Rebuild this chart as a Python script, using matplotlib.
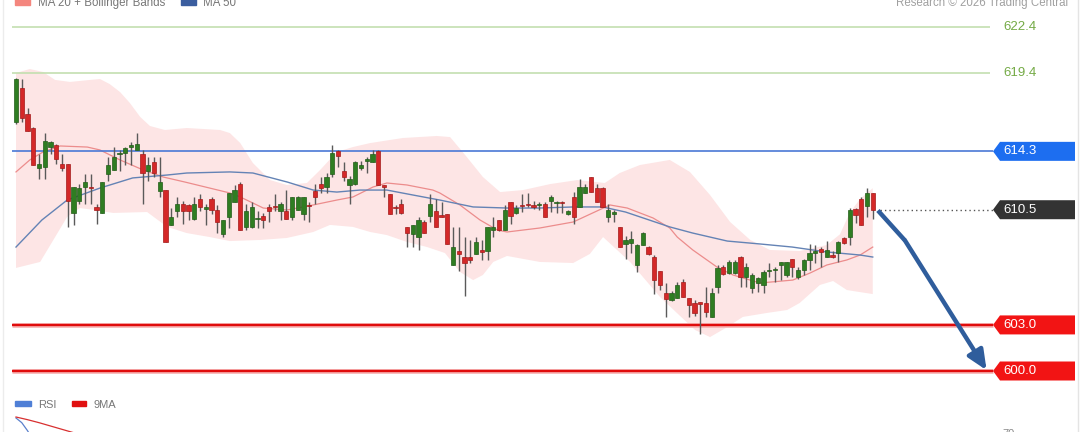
import numpy as np
import matplotlib
matplotlib.use("Agg")
import matplotlib.pyplot as plt
from matplotlib.patches import Polygon, Rectangle

# ---------------- data ----------------
opens = [616.2, 618.4, 616.7, 615.8, 613.2, 613.3, 614.6, 614.7, 613.5, 613.5,
         610.3, 611.1, 612.0, 612.0, 610.7, 610.3, 612.8, 613.1, 614.1, 614.2,
         614.6, 614.4, 614.1, 613.0, 613.6, 611.7, 611.8, 609.5, 610.4, 610.9,
         610.8, 609.9, 611.2, 610.55, 611.2, 610.5, 608.9, 610.0, 611.0, 612.2,
         609.4, 609.4, 609.9, 610.1, 610.7, 610.7, 610.4, 610.4, 610.0, 610.5,
         610.2, 610.8, 611.7, 612.2, 612.0, 612.8, 614.3, 613.0, 612.1, 612.2,
         613.2, 613.7, 613.6, 614.3, 612.1, 611.5, 610.65, 610.9, 609.4, 608.9,
         608.7, 609.7, 610.1, 610.4, 610.1, 610.2, 606.9, 607.8, 607.4, 607.4,
         607.6, 607.9, 607.8, 609.2, 609.8, 609.2, 611.0, 610.3, 610.8, 610.85,
         610.8, 610.8, 610.9, 611.1, 610.95, 611.0, 610.2, 611.3, 610.7, 611.6,
         612.6, 611.9, 611.9, 610.0, 610.2, 609.4, 608.3, 608.35, 606.9, 608.2,
         608.1, 607.4, 606.5, 605.1, 604.6, 604.75, 605.8, 604.75, 604.4, 604.5,
         604.4, 603.5, 605.5, 606.8, 606.4, 606.4, 607.4, 606.1, 605.4, 605.7,
         605.6, 606.5, 606.55, 606.9, 606.25, 607.3, 606.1, 606.6, 607.2, 607.7,
         607.95, 607.4, 607.5, 607.7, 608.65, 608.7, 610.55, 611.2, 610.75, 611.6]
highs = [619.1, 619.0, 617.1, 615.9, 614.1, 615.5, 615.0, 614.8, 614.1, 613.5,
         612.0, 612.2, 612.8, 612.8, 610.9, 612.3, 613.9, 614.6, 614.4, 614.6,
         614.9, 615.5, 614.4, 613.9, 613.9, 613.9, 611.8, 610.6, 611.3, 611.1,
         610.9, 611.3, 611.5, 610.9, 611.3, 610.8, 609.8, 611.6, 612.1, 612.3,
         610.9, 611.0, 610.4, 610.3, 610.9, 611.5, 611.0, 611.8, 611.3, 611.4,
         611.3, 611.0, 612.2, 612.6, 612.9, 614.7, 614.4, 613.6, 612.7, 613.7,
         613.7, 613.9, 614.4, 614.4, 612.1, 611.5, 610.8, 611.2, 609.4, 609.5,
         610.0, 609.8, 611.5, 611.2, 611.0, 610.2, 609.4, 609.4, 608.7, 608.5,
         608.7, 608.5, 609.4, 610.0, 609.8, 610.8, 611.0, 610.8, 611.5, 611.6,
         611.1, 611.0, 611.0, 611.45, 611.1, 611.1, 610.5, 611.65, 612.5, 612.2,
         612.65, 612.2, 612.0, 610.9, 610.5, 609.4, 608.8, 609.1, 608.3, 609.05,
         608.15, 607.55, 606.5, 605.7, 605.2, 605.8, 606.0, 604.75, 604.6, 604.5,
         605.5, 605.4, 606.9, 606.9, 607.2, 607.25, 607.5, 607.0, 606.4, 606.1,
         606.6, 607.0, 606.8, 607.1, 607.1, 607.3, 606.8, 607.3, 608.3, 608.2,
         608.1, 608.45, 607.8, 608.45, 608.7, 610.6, 610.6, 611.3, 611.9, 611.6]
lows = [616.1, 616.2, 615.6, 613.4, 612.5, 612.5, 614.1, 613.5, 613.0, 609.4,
        609.5, 610.9, 610.9, 610.9, 609.6, 610.3, 612.4, 613.1, 613.0, 613.4,
        613.4, 614.4, 610.9, 612.4, 612.6, 611.3, 608.4, 609.5, 610.0, 609.6,
        609.8, 609.8, 610.4, 609.5, 610.2, 609.0, 608.7, 609.3, 611.0, 609.2,
        609.2, 609.3, 609.3, 609.3, 609.7, 610.4, 609.8, 609.9, 609.8, 610.5,
        609.8, 609.7, 610.9, 611.6, 611.6, 612.6, 613.3, 612.4, 610.9, 612.1,
        613.1, 612.9, 613.6, 612.1, 611.3, 610.2, 610.2, 610.2, 608.1, 608.1,
        607.9, 609.0, 609.7, 609.4, 610.0, 608.3, 606.9, 606.5, 604.9, 607.0,
        607.6, 607.2, 607.2, 608.7, 609.1, 609.2, 609.6, 610.2, 610.35, 610.7,
        610.55, 610.5, 610.0, 610.35, 610.3, 610.3, 610.15, 609.6, 610.7, 611.6,
        611.65, 611.0, 610.7, 609.7, 609.7, 608.1, 607.3, 607.7, 606.45, 608.2,
        607.55, 605.0, 605.3, 603.5, 604.55, 604.75, 604.8, 603.5, 603.6, 602.4,
        603.5, 603.5, 605.1, 606.25, 606.3, 606.3, 605.5, 605.5, 605.1, 605.15,
        605.1, 606.1, 605.8, 605.9, 606.1, 606.1, 606.0, 606.25, 606.6, 607.0,
        606.8, 607.4, 607.35, 607.1, 608.3, 608.2, 609.65, 609.5, 610.0, 609.9]
closes = [619.0, 616.5, 615.6, 613.4, 613.5, 615.0, 614.9, 613.8, 613.2, 611.1,
          612.0, 611.9, 612.3, 611.9, 610.5, 612.3, 613.4, 613.9, 614.2, 614.5,
          614.7, 614.8, 612.9, 613.4, 612.9, 612.3, 608.4, 610.0, 610.9, 610.4,
          610.4, 610.9, 610.7, 610.7, 610.5, 609.7, 609.8, 611.6, 611.8, 609.2,
          610.4, 610.7, 609.95, 609.8, 610.4, 610.65, 610.9, 609.9, 611.3, 611.3,
          611.3, 610.75, 611.3, 611.9, 612.6, 614.2, 614.0, 612.6, 612.5, 613.6,
          613.4, 613.75, 614.1, 612.1, 612.0, 610.2, 610.6, 610.3, 609.0, 609.5,
          609.8, 609.0, 610.9, 609.4, 610.05, 608.3, 608.1, 607.6, 607.0, 607.2,
          608.4, 607.75, 609.4, 609.4, 609.2, 610.5, 610.1, 610.6, 610.75, 610.8,
          610.7, 610.9, 610.0, 611.3, 611.0, 610.95, 610.4, 610.0, 612.0, 612.0,
          611.65, 611.0, 610.7, 610.5, 610.35, 608.1, 608.5, 608.6, 608.2, 609.0,
          607.6, 605.9, 605.6, 604.7, 605.1, 605.6, 604.8, 604.3, 603.8, 604.35,
          603.85, 605.1, 606.7, 606.3, 607.1, 607.1, 606.1, 606.8, 606.25, 606.05,
          606.45, 606.5, 606.6, 607.1, 607.1, 606.8, 606.6, 607.2, 607.7, 607.75,
          607.75, 607.9, 607.45, 608.4, 608.35, 610.5, 610.15, 609.5, 611.6, 610.5]

ma20_idx = [0, 2.4, 4.7, 7.7, 12.4, 14.6, 18.1, 22.1, 25.6, 29.4, 37.2, 39, 43,
            47.1, 51.7, 55.8, 58.6, 62.1, 64.5, 68, 72.5, 73.7, 77.2, 80.7, 83.7,
            85.4, 91.1, 96.9, 100.3, 103.3, 106.3, 110.8, 113.7, 115, 117.7,
            121.9, 124.7, 129.4, 135.1, 138.1, 141, 144.5, 146.8, 149]
ma20_val = [612.96, 613.74, 614.26, 614.65, 614.58, 614.39, 613.74, 613.09,
            612.63, 612.30, 611.59, 611.33, 610.61, 610.48, 610.81, 611.13,
            611.33, 611.98, 612.24, 612.11, 611.78, 611.59, 610.81, 609.83,
            609.18, 609.05, 609.31, 609.70, 610.29, 610.81, 610.61, 609.96,
            609.31, 608.72, 607.88, 606.77, 606.25, 605.73, 605.92, 606.38,
            606.90, 607.23, 607.55, 608.07]

ma50_idx = [0, 4.5, 8.9, 14.6, 20.3, 26.3, 29.7, 37.2, 41.2, 47.2, 51.7, 55.8,
            59.8, 64.5, 69, 73.7, 79.5, 85.4, 91, 97, 102, 106, 113.7, 117.7,
            123.7, 129.4, 135, 141, 146.8, 149]
ma50_val = [608.07, 609.83, 611.13, 611.91, 612.57, 612.76, 612.89, 612.96,
            612.89, 612.30, 611.78, 611.65, 611.78, 611.78, 611.46, 611.13,
            610.68, 610.61, 610.61, 610.68, 610.68, 610.35, 609.38, 608.98,
            608.46, 608.27, 608.07, 607.75, 607.55, 607.42]

bb_upper_idx = [0, 2.4, 4.7, 6.8, 9.4, 12.9, 14.6, 16.3, 18.1, 19.8, 21.6, 23.3,
                25.9, 29.7, 35.5, 37.2, 39.0, 41.2, 44.2, 47.1, 50.6, 52.9, 55.8,
                58.6, 61.6, 67.3, 73.2, 75.5, 78.4, 81.2, 84.2, 88.2, 92.9, 97.6,
                102.4, 105.0, 108.5, 113.7, 117.2, 120.7, 124.2, 127.7, 131.1,
                136.3, 141.0, 143.3, 145.0, 146.8, 149]
bb_upper_val = [619.40, 619.66, 619.47, 618.95, 618.82, 618.95, 619.01, 618.68,
                618.16, 617.45, 616.54, 615.95, 615.69, 615.82, 615.69, 615.49,
                614.84, 613.54, 612.43, 612.11, 612.24, 613.09, 614.26, 614.58,
                614.84, 615.17, 615.30, 615.23, 613.93, 612.63, 611.65, 611.78,
                612.17, 612.43, 612.24, 612.89, 613.41, 613.74, 612.96, 611.46,
                609.70, 608.53, 607.88, 607.81, 608.20, 608.90, 610.30, 611.20,
                611.90]
bb_lower_idx = [0, 4.2, 6.8, 8.9, 11.1, 13.7, 16.9, 22.8, 26.3, 29.7, 33.7, 37.2,
                42.4, 47.1, 51.7, 54.6, 58.6, 61.6, 64.5, 68.0, 71.5, 74.6, 77.2,
                79.5, 81.2, 83.0, 85.4, 91.1, 96.9, 99.8, 102.1, 106.8, 112.0,
                115.5, 118.1, 120.7, 123.7, 126.4, 130.6, 134.1, 136.3, 139.8,
                142.1, 144.5, 149]
bb_lower_val = [606.71, 607.10, 608.72, 610.03, 610.61, 610.48, 610.29, 610.35,
                609.38, 608.98, 608.72, 608.46, 608.53, 608.66, 609.05, 609.51,
                609.38, 609.05, 608.85, 608.40, 608.07, 607.68, 606.45, 605.92,
                606.25, 607.10, 607.49, 607.10, 607.03, 607.62, 608.72, 607.10,
                604.82, 603.58, 602.67, 602.21, 602.86, 603.52, 603.78, 603.97,
                604.43, 605.60, 605.86, 605.27, 605.01]

resistance_levels = [622.4, 619.4]
pivot_level = 614.3
support_levels = [603.0, 600.0]
last_price = 610.5

arrow_idx = [149.9, 154.6, 168.8]
arrow_price = [610.45, 608.5, 600.05]

rsi_idx = [0, 1, 2, 3]
rsi_val = [91, 84, 72, 58]
rsi_ma_idx = [0, 2, 4, 6, 8, 10]
rsi_ma_val = [92.5, 88.5, 84, 79, 74, 69]

legend_labels = ["MA 20 + Bollinger Bands", "MA 50"]
rsi_labels = ["RSI", "9MA"]
credit = "Research \u00a9 2026 Trading Central"
rsi_tick = "70"

# ---------------- layout ----------------
W, H = 1080, 432
X0_PX, STEP_PX = 16.0, 5.75
Y600_PX, PX_PER_UNIT = 371.0, 15.36

def px_x(px):
    return (px - X0_PX) / STEP_PX

def fx(px):
    return px / W

def fy(py):
    return 1 - py / H

FONT = "Liberation Sans"
plt.rcParams["font.family"] = [FONT, "DejaVu Sans"]

fig = plt.figure(figsize=(W / 100, H / 100), dpi=100)
fig.patch.set_facecolor("white")
ax = fig.add_axes([0, 0, 1, 1])
ax.set_xlim(px_x(0), px_x(W))
ax.set_ylim(600 - (H - Y600_PX) / PX_PER_UNIT, 600 + Y600_PX / PX_PER_UNIT)
ax.axis("off")

# Bollinger band fill
poly_x = list(bb_upper_idx) + list(bb_lower_idx[::-1])
poly_y = list(bb_upper_val) + list(bb_lower_val[::-1])
ax.fill(poly_x, poly_y, color="#fde5e5", lw=0, zorder=1)

# moving averages
ax.plot(ma20_idx, ma20_val, color="#ec8c8c", lw=0.9, zorder=2)
ax.plot(ma50_idx, ma50_val, color="#6483b5", lw=1.0, zorder=2)

# level lines
x_start = px_x(12)
x_tip = px_x(993)
for lv in resistance_levels:
    ax.hlines(lv, x_start, px_x(990), color="#c3dfb0", lw=1.2, zorder=3)
    ax.text(px_x(1003), lv, f"{lv:.1f}", color="#74aa45", fontsize=9.5,
            ha="left", va="center", zorder=6)

ax.hlines(pivot_level, x_start, x_tip, color="#4a78d6", lw=1.2, zorder=3)
for lv in support_levels:
    ax.hlines(lv, x_start, x_tip, color="#f8b4b4", lw=3.4, zorder=3)
    ax.hlines(lv, x_start, x_tip, color="#e00c0c", lw=1.7, zorder=3)

# last price dotted line
ax.hlines(last_price, px_x(880), x_tip, color="#555555", lw=1.0,
          linestyles=(0, (1, 2.2)), zorder=3)

# tags
hh = 9.5 / PX_PER_UNIT
def tag(value, color):
    pts = [(px_x(993), value), (px_x(1000), value + hh), (px_x(1075), value + hh),
           (px_x(1075), value - hh), (px_x(1000), value - hh)]
    ax.add_patch(Polygon(pts, closed=True, facecolor=color, edgecolor="none",
                         zorder=6))
    ax.text(px_x(1003), value, f"{value:.1f}", color="white", fontsize=9.5,
            ha="left", va="center", zorder=7)

tag(pivot_level, "#1d6ef0")
tag(last_price, "#333333")
for lv in support_levels:
    tag(lv, "#f21414")

# candles
idx = np.arange(len(opens))
o = np.array(opens); c = np.array(closes)
hi = np.array(highs); lo = np.array(lows)
ax.vlines(idx, lo, hi, color="#5a5a5a", lw=1.0, zorder=4)
up = c >= o
bottoms = np.minimum(o, c)
heights = np.maximum(np.abs(c - o), 0.08)
ax.bar(idx[up], heights[up], bottom=bottoms[up], width=0.7, color="#2f7d22",
       edgecolor="#225c18", linewidth=0.5, zorder=5)
ax.bar(idx[~up], heights[~up], bottom=bottoms[~up], width=0.7, color="#d42828",
       edgecolor="#a31a1a", linewidth=0.5, zorder=5)

# forecast arrow
arrow_color = "#2f5d9c"
ax.plot(arrow_idx[:2], arrow_price[:2], color=arrow_color, lw=3.2,
        solid_capstyle="butt", solid_joinstyle="round", zorder=6)
ax.annotate("", xy=(arrow_idx[2], arrow_price[2]),
            xytext=(arrow_idx[1], arrow_price[1]),
            arrowprops=dict(arrowstyle="-|>,head_length=0.9,head_width=0.4",
                            color=arrow_color, lw=3.2, shrinkA=0, shrinkB=0,
                            mutation_scale=13),
            zorder=6)

# top legend
fig.add_artist(Rectangle((fx(15), fy(5)), 15 / W, 10 / H, color="#f4867e",
                         transform=fig.transFigure))
fig.text(fx(38), fy(6), legend_labels[0], color="#777777", fontsize=8.3,
         ha="left", va="baseline")
fig.add_artist(Rectangle((fx(181), fy(5)), 15 / W, 10 / H, color="#3b5e9f",
                         transform=fig.transFigure))
fig.text(fx(203), fy(6), legend_labels[1], color="#777777", fontsize=8.3,
         ha="left", va="baseline")
fig.text(fx(1068), fy(6), credit, color="#a0a0a0", fontsize=8.3,
         ha="right", va="baseline")

# RSI panel (mostly outside the visible area)
rsi_bottom_px = 412 + 100 * (20 / 30)
ax2 = fig.add_axes([0, fy(rsi_bottom_px), 1, (rsi_bottom_px - 412) / H])
ax2.set_xlim(px_x(0), px_x(W))
ax2.set_ylim(0, 100)
ax2.axis("off")
ax2.plot(rsi_idx, rsi_val, color="#5a80cc", lw=0.9)
ax2.plot(rsi_ma_idx, rsi_ma_val, color="#d83030", lw=0.9)
fig.add_artist(Rectangle((fx(15), fy(406)), 16 / W, 5 / H, color="#4f7fd6",
                         transform=fig.transFigure))
fig.text(fx(38), fy(407.5), rsi_labels[0], color="#777777", fontsize=8.0,
         ha="left", va="baseline")
fig.add_artist(Rectangle((fx(72), fy(406)), 14 / W, 5 / H, color="#e01010",
                         transform=fig.transFigure))
fig.text(fx(93), fy(407.5), rsi_labels[1], color="#777777", fontsize=8.0,
         ha="left", va="baseline")
fig.text(fx(1002), fy(429), rsi_tick, color="#888888", fontsize=8.0,
         ha="left", va="top")

# faint frame edges
fig.add_artist(plt.Line2D([fx(2.5), fx(2.5)], [0, 1], color="#ececec", lw=1,
                          transform=fig.transFigure))
fig.add_artist(plt.Line2D([fx(1078), fx(1078)], [0, 1], color="#e4e4e4", lw=1,
                          transform=fig.transFigure))

fig.savefig("out.png", dpi=100)
